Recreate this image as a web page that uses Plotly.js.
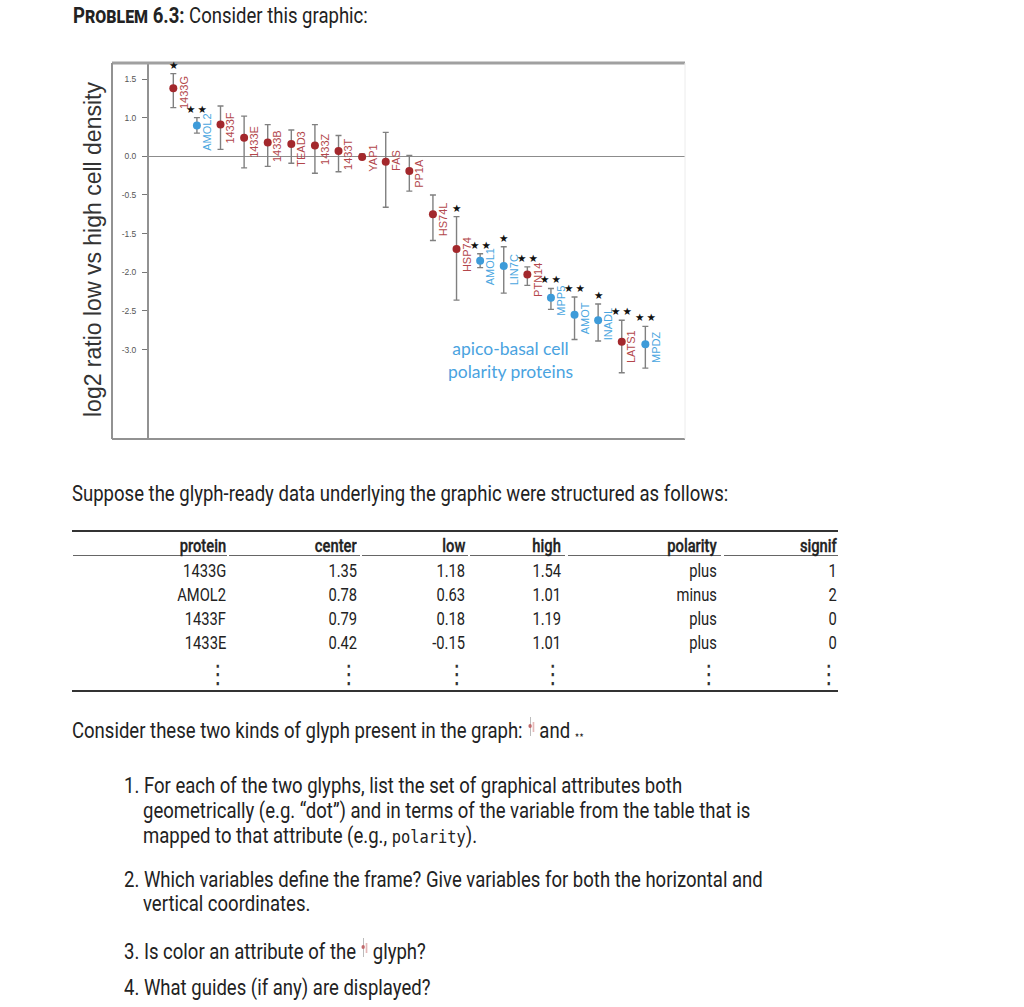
<!DOCTYPE html>
<html><head><meta charset="utf-8">
<script src="https://cdn.plot.ly/plotly-3.0.1.min.js"></script>
<style>
html,body{margin:0;padding:0;background:#fff;}
body{width:1024px;height:1007px;position:relative;overflow:hidden;font-family:Roboto,'Noto Sans',sans-serif;color:#222;--s:0.82;}
#chart{position:absolute;left:0;top:50px;width:1024px;height:410px;}
.ln{position:absolute;white-space:nowrap;line-height:1;}
.ln>span{display:inline-block;transform:scaleX(var(--s));transform-origin:left center;}
.r>span{transform-origin:right center;}
.body{font-size:22px;}
.tb{font-size:17.5px;}
.th{font-weight:500;-webkit-text-stroke:0.35px #222;}
.sc{font-variant:small-caps;font-weight:700;}
code{font-family:'DejaVu Sans Mono',monospace;font-size:calc(15.4px / var(--s));}
.rule{position:absolute;background:#333;}
.seg{position:absolute;background:#666;height:1px;top:555px;}
.g1{display:inline-block;position:relative;width:9px;height:19px;vertical-align:2px;}
.g1 i{position:absolute;display:block;}
.g1 .bar{left:3px;top:0;width:1px;height:19px;background:#b0b0b0;}
.g1 .dot{left:1.5px;top:7px;width:4px;height:4px;border-radius:50%;background:#c0686a;}
.g1 .lab{left:6px;top:5px;width:2px;height:10px;background:#e4b8b8;}
.g2{font-family:'DejaVu Sans';font-size:6px;color:#333;vertical-align:1px;}
.vd{font-family:'DejaVu Sans';font-size:26px;color:#333;}
</style></head>
<body>
<div id="chart"></div>

<div class="ln body" style="left:73px;top:4.5px"><span><b class="sc">Problem 6.3:</b> Consider this graphic:</span></div>
<div class="ln body" style="left:72px;top:482.5px"><span id="refline">Suppose the glyph-ready data underlying the graphic were structured as follows:</span></div>

<div id="table"></div>

<div class="ln body" style="left:72px;top:717px"><span>Consider these two kinds of glyph present in the graph: <span class="g1"><i class="bar"></i><i class="lab"></i><i class="dot"></i></span> and <span class="g2">★★</span></span></div>
<div class="ln body" style="left:124px;top:774.5px"><span>1. For each of the two glyphs, list the set of graphical attributes both</span></div>
<div class="ln body" style="left:143px;top:799.5px"><span>geometrically (e.g. “dot”) and in terms of the variable from the table that is</span></div>
<div class="ln body" style="left:143px;top:824.5px"><span>mapped to that attribute (e.g., <code>polarity</code>).</span></div>
<div class="ln body" style="left:124px;top:868.5px"><span>2. Which variables define the frame? Give variables for both the horizontal and</span></div>
<div class="ln body" style="left:143px;top:892.5px"><span>vertical coordinates.</span></div>
<div class="ln body" style="left:124px;top:937.5px"><span>3. Is color an attribute of the <span class="g1"><i class="bar"></i><i class="lab"></i><i class="dot"></i></span> glyph?</span></div>
<div class="ln body" style="left:124px;top:976.5px"><span>4. What guides (if any) are displayed?</span></div>

<script>
// ---- chart data (values read in the figure's linear axis units) ----
const protein = ['1433G','AMOL2','1433F','1433E','1433B','TEAD3','1433Z','1433T','YAP1','FAS','PP1A','HS74L','HSP74','AMOL1','LIN7C','PTN14','MPP5','AMOT','INADL','LATS1','MPDZ'];
const center  = [0.88, 0.40, 0.41, 0.24, 0.18, 0.16, 0.14, 0.07, -0.01, -0.07, -0.19, -0.75, -1.20, -1.35, -1.42, -1.53, -1.83, -2.05, -2.12, -2.40, -2.43];
const low     = [0.63, 0.30, 0.09, -0.15, -0.13, -0.09, -0.22, -0.20, -0.04, -0.66, -0.45, -1.09, -1.86, -1.44, -1.77, -1.67, -1.98, -2.37, -2.39, -2.80, -2.74];
const high    = [1.07, 0.50, 0.65, 0.52, 0.41, 0.34, 0.41, 0.27, 0.03, 0.31, 0.01, -0.50, -0.78, -1.26, -1.17, -1.43, -1.71, -1.82, -1.91, -2.12, -2.20];
const polarity= ['plus','minus','plus','plus','plus','plus','plus','plus','plus','plus','plus','plus','plus','minus','minus','plus','minus','minus','minus','plus','minus'];
const signif  = [1,2,0,0,0,0,0,0,0,0,0,0,1,2,1,2,2,2,1,2,2];
const tickVals = [1.0, 0.5, 0, -0.5, -1.0, -1.5, -2.0, -2.5];
const tickText = ['1.5','1.0','0.0','-0.5','-1.5','-2.0','-2.5','-3.0'];
const axisTitle = 'log2 ratio low vs high cell density';
const noteText = 'apico-basal cell<br>polarity proteins';

// ---- table data ----
const tblCols = ['protein','center','low','high','polarity','signif'];
const tblProtein = ['1433G','AMOL2','1433F','1433E'];
const tblCenter = ['1.35','0.78','0.79','0.42'];
const tblLow = ['1.18','0.63','0.18','-0.15'];
const tblHigh = ['1.54','1.01','1.19','1.01'];
const tblPolarity = ['plus','minus','plus','plus'];
const tblSignif = ['1','2','0','0'];

const RED='#a3282c', BLUE='#3d9bd9', RED_T='#b3474b', BLUE_T='#4aa6e0';

const trace = {
  type:'scatter', mode:'markers', x:protein, y:center,
  marker:{size:8, color:polarity.map(p=>p==='minus'?BLUE:RED)},
  error_y:{type:'data', symmetric:false,
    array:high.map((h,i)=>h-center[i]),
    arrayminus:low.map((l,i)=>center[i]-l),
    color:'#808080', thickness:1.4, width:3},
  hoverinfo:'none', cliponaxis:false, showlegend:false
};

const pxL=149, pxW=536, pxB=439, pxH=376;
const fx = p => (p-pxL)/pxW, fy = p => (pxB-p)/pxH;

const ann = [];
protein.forEach((p,i)=>{
  ann.push({x:p, y:center[i], xref:'x', yref:'y', text:p, textangle:-90, showarrow:false,
    xanchor:'center', yanchor:'top', xshift:10, yshift:14,
    font:{family:'Liberation Sans', size:11, color: polarity[i]==='minus'?BLUE_T:RED_T}});
  if(signif[i]>0){
    ann.push({x:p, y:high[i], xref:'x', yref:'y', text:Array(signif[i]).fill('★').join('\u2009'),
      showarrow:false, xanchor:'center', yanchor:'bottom', yshift:1,
      font:{family:'DejaVu Sans', size:10.5, color:'#111'}});
  }
});
ann.push({xref:'paper', yref:'paper', x:fx(93), y:fy(250), xanchor:'center', yanchor:'middle', text:axisTitle, textangle:-90, showarrow:false,
  font:{family:'Liberation Sans', size:23, color:'#333'}});
ann.push({xref:'paper', yref:'paper', x:fx(510), y:fy(360), xanchor:'center', yanchor:'middle', text:noteText, showarrow:false, align:'center',
  font:{family:'Lato', size:17.5, color:'#4aa3df'}});

const frameX = fx(112);
const shapes = [
  {type:'line', xref:'paper', yref:'paper', x0:frameX, x1:1, y0:1, y1:1, line:{color:'#a0a0a0', width:3}},
  {type:'line', xref:'paper', yref:'paper', x0:frameX, x1:frameX, y0:0, y1:1, line:{color:'#929292', width:2}},
  {type:'line', xref:'paper', yref:'paper', x0:frameX, x1:1, y0:0, y1:0, line:{color:'#929292', width:2}},
  {type:'line', xref:'paper', yref:'paper', x0:1, x1:1, y0:0, y1:1, line:{color:'#ececec', width:1}}
];

const layout = {
  width:1024, height:410, margin:{l:149, r:339, t:13, b:21},
  paper_bgcolor:'rgba(0,0,0,0)', plot_bgcolor:'rgba(0,0,0,0)',
  xaxis:{type:'category', range:[-1.03, 21.68], showticklabels:false, showgrid:false, zeroline:false, showline:false, ticks:''},
  yaxis:{range:[-3.657, 1.207], tickvals:tickVals, ticktext:tickText, ticks:'outside', ticklen:5, tickwidth:1, tickcolor:'#777',
    showline:true, linecolor:'#929292', linewidth:2, showgrid:false, zeroline:true, zerolinecolor:'#8c8c8c', zerolinewidth:1.5,
    tickfont:{family:'Liberation Sans', size:8.5, color:'#555'}, ticklabelstandoff:4},
  annotations:ann, shapes:shapes, showlegend:false
};
Plotly.newPlot('chart', [trace], layout, {staticPlot:true, displayModeBar:false});

// ---- table ----
const colRight = [226, 357, 465, 561, 717, 837];
const segs = [[73,227],[229,360],[362,468],[470,565],[568,721],[724,838]];
const rowBase = [578, 602, 626, 650];
const cols = [tblProtein, tblCenter, tblLow, tblHigh, tblPolarity, tblSignif];
let html = '';
html += '<div class="rule" style="left:72px;top:530px;width:766px;height:2px"></div>';
html += '<div class="rule" style="left:72px;top:690px;width:766px;height:2px"></div>';
segs.forEach(s=>{ html += `<div class="seg" style="left:${s[0]}px;width:${s[1]-s[0]}px"></div>`; });
const tOff = 0.8415*17.5;
tblCols.forEach((c,j)=>{
  html += `<div class="ln tb th r" style="right:${1024-colRight[j]}px;top:${553-tOff}px"><span>${c}</span></div>`;
  cols[j].forEach((v,i)=>{
    html += `<div class="ln tb r" style="right:${1024-colRight[j]}px;top:${rowBase[i]-tOff}px"><span>${v}</span></div>`;
  });
  html += `<div class="ln vd r" style="right:${1024-colRight[j]-3}px;top:661px"><span>⋮</span></div>`;
});
document.getElementById('table').innerHTML = html;

function fit(){
  const w = document.getElementById('refline').offsetWidth;
  if(w>0) document.body.style.setProperty('--s', (656/w).toFixed(4));
}
fit();
if(document.fonts && document.fonts.ready) document.fonts.ready.then(fit);
</script>
</body></html>
